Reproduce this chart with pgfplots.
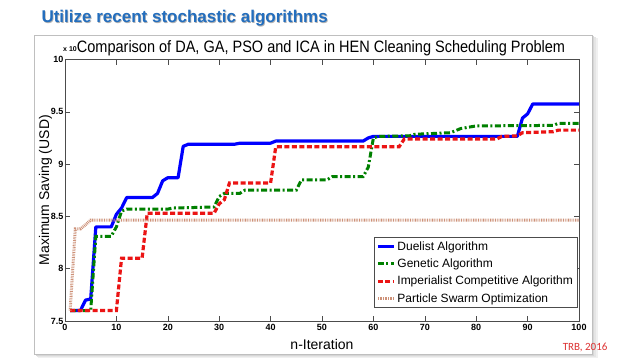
\documentclass[border=0pt]{standalone}
\usepackage{fontspec}
\setmainfont{Liberation Sans}
\newfontfamily\carlito{Carlito}
\usepackage{pgfplots}
\pgfplotsset{compat=1.18}
\definecolor{ttlblue}{RGB}{35,110,190}
\definecolor{dablue}{RGB}{0,0,255}
\definecolor{gagreen}{RGB}{0,128,0}
\definecolor{icared}{RGB}{235,20,20}
\definecolor{psocol}{RGB}{205,145,120}
\definecolor{trbred}{RGB}{220,50,50}
\begin{document}
\begin{tikzpicture}[x=1pt,y=1pt]
\path[use as bounding box] (0,0) rectangle (638,359);
% slide frame with soft shadow
\fill[black!6] (38,1) rectangle (598,321);
\fill[black!10] (37,2) rectangle (596,322);
\fill[black!16] (36,3) rectangle (594,323);
\fill[white] (34,5) rectangle (592,324);
\draw[black!25,line width=0.6pt] (34,5) rectangle (592,324);
% slide title
\node[anchor=west,text=black!30,font=\fontsize{17}{20}\selectfont\bfseries] at (38.8,340.2) {Utilize recent stochastic algorithms};
\node[anchor=west,text=ttlblue,font=\fontsize{17}{20}\selectfont\bfseries] at (38,341) {Utilize recent stochastic algorithms};
% chart title
\node[xscale=0.88,font=\fontsize{16.5}{18}\selectfont] at (321,311) {Comparison of DA, GA, PSO and ICA in HEN Cleaning Scheduling Problem};
\node[anchor=south west,font=\fontsize{7}{8}\selectfont\bfseries,inner sep=0pt] at (63,307) {x 10};
% credit
\node[anchor=east,text=trbred,font=\carlito\fontsize{11}{12}\selectfont] at (611,12) {TRB, 2016};
\begin{axis}[
  at={(65pt,38pt)}, anchor=south west,
  scale only axis, width=514pt, height=261.5pt,
  xmin=0, xmax=100, ymin=7.5, ymax=10,
  xtick={0,10,...,100},
  ytick={7.5,8,8.5,9,9.5,10},
  yticklabels={7.5,8,8.5,9,9.5,10},
  tick align=inside, major tick length=5pt,
  axis line style={black!70, line width=0.6pt},
  every tick/.style={black!70, line width=0.5pt},
  /pgf/number format/assume math mode=true,
  ticklabel style={font=\fontsize{9}{10}\selectfont\bfseries},
  xticklabel style={yshift=0pt},
  yticklabel style={xshift=2pt},
  xlabel={n-Iteration},
  ylabel={Maximum Saving (USD)},
  label style={font=\fontsize{14}{15}\selectfont},
  xlabel style={yshift=-2pt},
  ylabel style={yshift=-8pt},
  legend cell align=left,
  legend style={at={(0.601,0.321)}, anchor=north west, draw=black!70, line width=0.6pt,
    font=\fontsize{12}{14}\selectfont, inner sep=2pt, row sep=3.2pt,
    legend image code/.code={\draw[#1] (0pt,0pt) -- (16pt,0pt);}},
]
\addplot[dablue, line width=3.2pt, line join=round] coordinates {
(1,7.6)(2,7.6)(3,7.6)(4,7.7)(5,7.71)(6,8.4)(7,8.4)(8,8.4)(9,8.4)(10,8.52)(11,8.58)(12,8.68)(13,8.68)(14,8.68)(15,8.68)(16,8.68)(17,8.68)(18,8.72)(19,8.84)(20,8.87)(21,8.87)(22,8.87)(23,9.17)(24,9.19)(33,9.19)(34,9.2)(40,9.2)(41,9.22)(58,9.22)(59,9.25)(60,9.265)(88,9.265)(89,9.44)(90,9.48)(91,9.575)(100,9.575)};
\addlegendentry{Duelist Algorithm}
\addplot[gagreen, line width=3pt, dash pattern=on 6pt off 2.5pt on 2pt off 2.5pt] coordinates {
(1,7.6)(5,7.6)(6,8.31)(9,8.31)(10,8.4)(11,8.55)(12,8.57)(20,8.57)(21,8.58)(29,8.59)(30,8.69)(31,8.72)(34,8.72)(35,8.75)(45,8.75)(46,8.85)(51,8.85)(52,8.88)(58,8.88)(59,8.97)(60,9.25)(61,9.265)(67,9.27)(68,9.285)(75,9.3)(76,9.32)(77,9.34)(80,9.365)(95,9.37)(96,9.39)(100,9.39)};
\addlegendentry{Genetic Algorithm}
\addplot[icared, line width=3.2pt, dash pattern=on 5pt off 2.5pt] coordinates {
(1,7.6)(10,7.6)(11,8.1)(15,8.1)(16,8.53)(29,8.53)(30,8.62)(31,8.66)(32,8.82)(40,8.82)(41,9.165)(65,9.165)(66,9.24)(84,9.24)(85,9.265)(88,9.27)(89,9.3)(95,9.31)(96,9.325)(100,9.325)};
\addlegendentry{Imperialist Competitive Algorithm}
\addplot[psocol, line width=3pt, dash pattern=on 0.8pt off 0.9pt] coordinates {
(1,7.6)(2,8.38)(3,8.38)(4,8.42)(5,8.465)(100,8.465)};
\addlegendentry{Particle Swarm Optimization}
\end{axis}
\end{tikzpicture}
\end{document}
